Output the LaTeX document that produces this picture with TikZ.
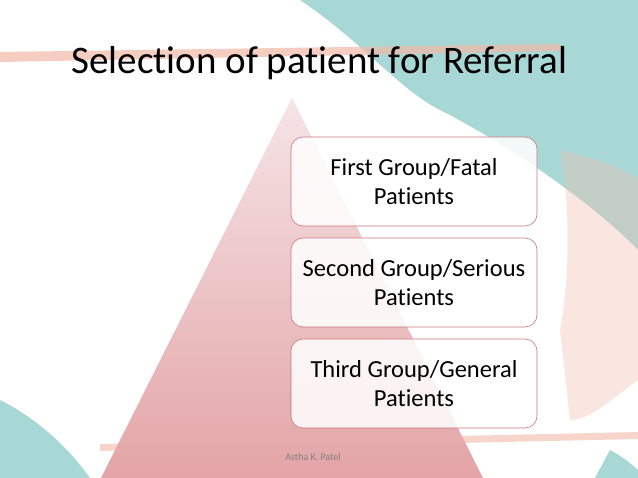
\documentclass[tikz,border=0pt]{standalone}
\usepackage{fontspec}
\setmainfont[Ligatures=NoCommon]{Carlito}
\definecolor{teal1}{HTML}{A8D8D6}
\definecolor{pink1}{HTML}{F2B9A8}
\definecolor{tritop}{HTML}{F5E4E6}
\definecolor{tribot}{HTML}{E3A4A6}
\definecolor{boxedge}{HTML}{C9787C}
\tikzset{
  lvl/.style={draw=boxedge, line width=0.6pt, rounded corners=12pt, fill=white, fill opacity=0.85, text opacity=1,
    minimum width=246pt, minimum height=89pt, align=center, font=\fontsize{24.5}{29}\selectfont, inner sep=0pt},
  x=1pt, y=-1pt
}
\begin{document}
\begin{tikzpicture}
\useasboundingbox (0,0) rectangle (638,478);
\fill[white] (0,0) rectangle (638,478);
% background strokes
\fill[teal1] (300,0) -- (638,0) -- (638,250) .. controls (590,200) and (500,140) .. (440,110) .. controls (400,90) and (360,40) .. (300,0) -- cycle;
\fill[pink1, opacity=0.7] (0,52) -- (560,44) -- (560,51) -- (0,62) -- cycle;
\fill[pink1, opacity=0.35] (560,150) .. controls (600,160) and (630,170) .. (638,180) -- (638,380) .. controls (610,400) and (590,420) .. (570,420) -- (560,330) .. controls (570,280) and (570,200) .. (560,150) -- cycle;
\fill[pink1, opacity=0.6] (100,444) -- (638,432) -- (638,439) -- (100,451) -- cycle;
\fill[teal1] (0,400) .. controls (40,420) and (70,450) .. (90,478) -- (0,478) -- cycle;
\fill[teal1] (610,450) .. controls (625,458) and (632,465) .. (638,470) -- (638,478) -- (595,478) -- cycle;
% pyramid
\shade[top color=tritop, bottom color=tribot] (292,98) -- (483,478) -- (101,478) -- cycle;
\node[lvl] (l1) at (414,181.5) {First Group/Fatal\\Patients};
\node[lvl] (l2) at (414,282.5) {Second Group/Serious\\Patients};
\node[lvl] (l3) at (414,383.5) {Third Group/General\\Patients};
\node[anchor=west, font=\fontsize{39}{44}\selectfont] (title) at (68,63) {Selection of patient for Referral};
\node[font=\fontsize{10}{12}\selectfont, text=gray] (foot) at (313,457) {Astha K. Patel};
\end{tikzpicture}
\end{document}
